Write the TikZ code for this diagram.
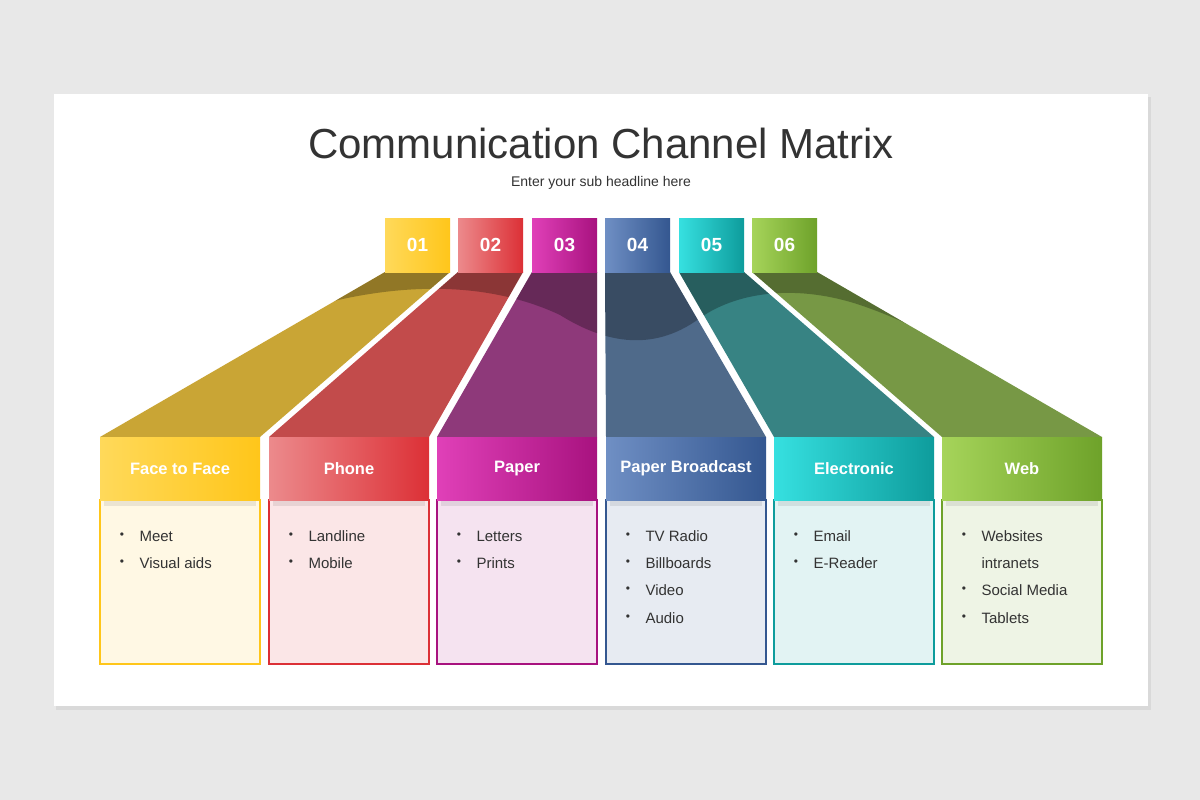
\documentclass[tikz,border=0pt]{standalone}
\usepackage{fontspec}
\setmainfont{Liberation Sans}
\begin{document}
\begin{tikzpicture}[x=1pt,y=-1pt,
  num/.style={minimum width=65pt,minimum height=54pt,inner sep=0pt,text=white,font=\bfseries\fontsize{19}{19}\selectfont},
  head/.style={minimum width=160pt,minimum height=63pt,inner sep=0pt,text=white,font=\bfseries\fontsize{16.5}{17}\selectfont},
  body/.style={minimum width=160pt,minimum height=164pt,inner sep=0pt,line width=1.2pt},
  item/.style={anchor=west,font=\fontsize{15}{15}\selectfont,text=black!80},
  dot/.style={anchor=center,font=\fontsize{12}{12}\selectfont,text=black!80}]
\definecolor{cA}{HTML}{FFC61A}\definecolor{cAl}{HTML}{FFD95A}\definecolor{bA}{HTML}{C9A535}
\definecolor{cB}{HTML}{DC3036}\definecolor{cBl}{HTML}{EC8A8C}\definecolor{bB}{HTML}{C24B4B}
\definecolor{cC}{HTML}{A8127F}\definecolor{cCl}{HTML}{E040B8}\definecolor{bC}{HTML}{8E397A}
\definecolor{cD}{HTML}{345790}\definecolor{cDl}{HTML}{6F8FC4}\definecolor{bD}{HTML}{4F6A8A}
\definecolor{cE}{HTML}{0E9C9C}\definecolor{cEl}{HTML}{36E0E0}\definecolor{bE}{HTML}{378383}
\definecolor{cF}{HTML}{6EA22A}\definecolor{cFl}{HTML}{A6D45A}\definecolor{bF}{HTML}{779845}
\fill[black!9] (0,0) rectangle (1200,800);
\fill[black!15] (56,97) rectangle (1151,710);
\fill[white] (54,94) rectangle (1148,706);
\node (title) at (601,143) {\fontsize{42}{42}\selectfont\color{black!80}Communication Channel Matrix};
\node (sub) at (601,183) {\fontsize{14}{14}\selectfont\color{black!80}Enter your sub headline here};
\def\bands{
 (385,272)--(450,272)--(260,437)--(100,437)--cycle
 (458,272)--(523,272)--(429,437)--(269,437)--cycle
 (532,272)--(597,272)--(597,437)--(437,437)--cycle
 (605,272)--(670,272)--(766,437)--(606,437)--cycle
 (679,272)--(744,272)--(934,437)--(774,437)--cycle
 (752,272)--(817,272)--(1102,437)--(942,437)--cycle}
\fill[bA] (385,272)--(450,272)--(260,437)--(100,437)--cycle;
\fill[bB] (458,272)--(523,272)--(429,437)--(269,437)--cycle;
\fill[bC] (532,272)--(597,272)--(597,437)--(437,437)--cycle;
\fill[bD] (605,272)--(670,272)--(766,437)--(606,437)--cycle;
\fill[bE] (679,272)--(744,272)--(934,437)--(774,437)--cycle;
\fill[bF] (752,272)--(817,272)--(1102,437)--(942,437)--cycle;
\begin{scope}
\clip \bands;
\fill[black,opacity=0.28] (300,250)--(300,310) .. controls (400,280) and (490,282) .. (560,315) .. controls (600,340) and (650,355) .. (700,318) .. controls (740,290) and (800,285) .. (860,305) .. controls (910,322) and (950,345) .. (980,365)--(1120,365)--(1120,250)--cycle;
\end{scope}
\foreach \i/\x/\c/\t in {1/385/A/01,2/458/B/02,3/532/C/03,4/605/D/04,5/679/E/05,6/752/F/06}{
  \node[num,left color=c\c l,right color=c\c] (n\i) at (\x+32.5,245) {\t};
}
\foreach \i/\x/\c/\t in {1/100/A/Face to Face,2/269/B/Phone,3/437/C/Paper,4/606/D/Paper Broadcast,5/774/E/Electronic,6/942/F/Web}{
  \node[body,draw=c\c,fill=c\c!12] (b\i) at (\x+80,582) {};
  \fill[black,opacity=0.08] (\x+4,500) rectangle (\x+156,506);
  \node[head,left color=c\c l,right color=c\c] (h\i) at (\x+80,468.5) {\t};
}
\foreach \x/\y/\t in {100/536/Meet,100/563/Visual aids,
  269/536/Landline,269/563/Mobile,
  437/536/Letters,437/563/Prints,
  606/536/TV Radio,606/563/Billboards,606/590/Video,606/618/Audio,
  774/536/Email,774/563/E-Reader,
  942/536/Websites,942/590/Social Media,942/618/Tablets}{
  \node[dot] at (\x+22,\y) {•};
  \node[item] at (\x+36,\y) {\t};
}
\node[item] at (978,563) {intranets};
\end{tikzpicture}
\end{document}
